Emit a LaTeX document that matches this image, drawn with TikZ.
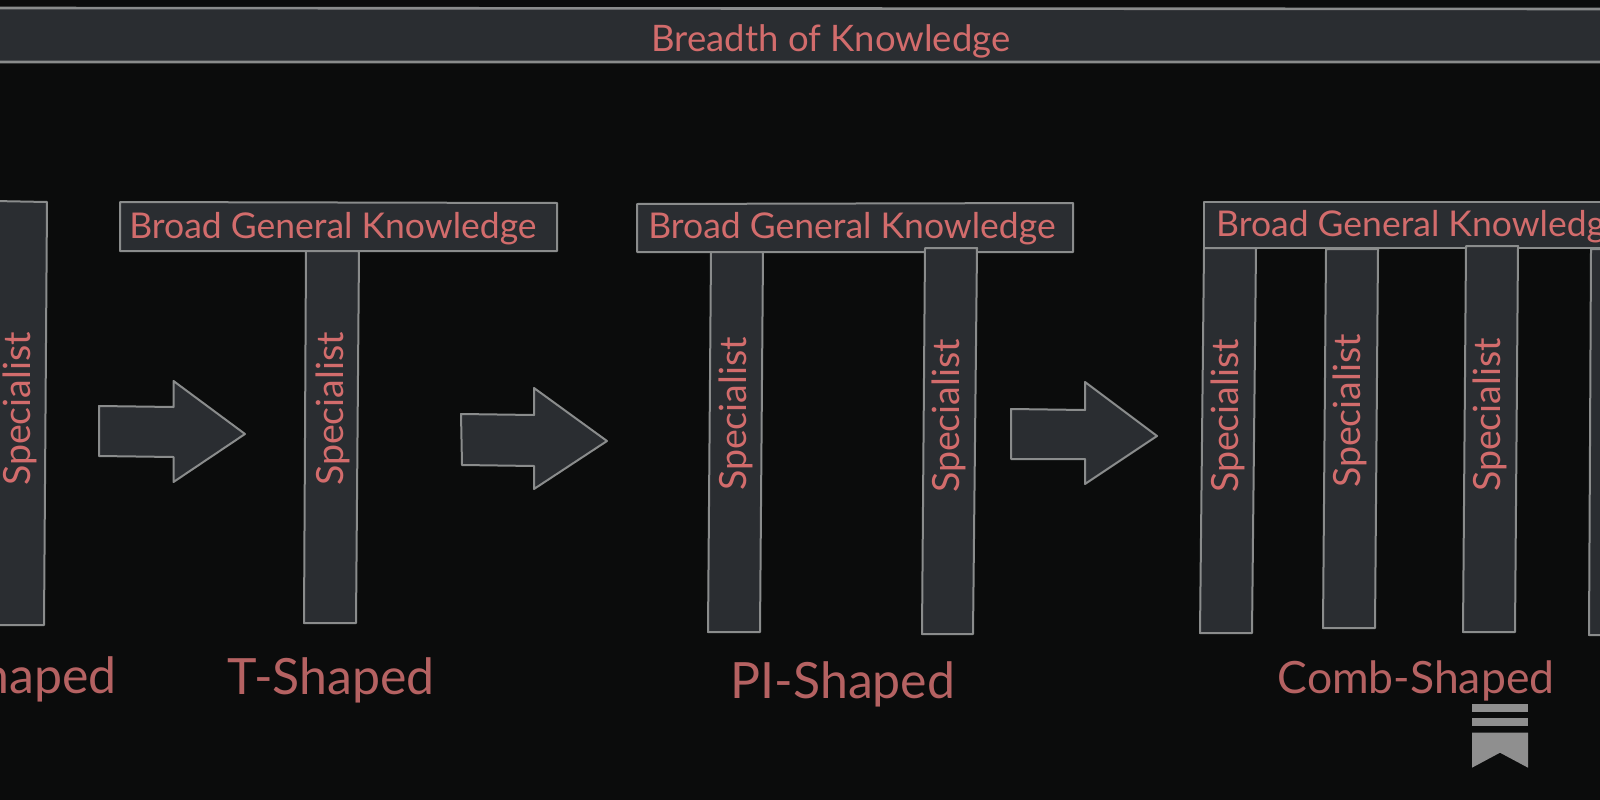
\documentclass[tikz,border=0pt]{standalone}
\usepackage{fontspec}
\setmainfont{Lato}
\definecolor{bgc}{HTML}{0B0C0C}
\definecolor{boxfill}{HTML}{2A2D31}
\definecolor{boxline}{HTML}{8A8C8C}
\definecolor{txt}{HTML}{D26C6C}
\definecolor{txtdim}{HTML}{B56262}
\definecolor{logo}{HTML}{8F8F8F}
\tikzset{
  shapebox/.style={draw=boxline,fill=boxfill,line width=2pt,line join=round},
  boxtext/.style={text=txt,font=\fontsize{35.5}{36}\selectfont,inner sep=0pt},
  spectext/.style={text=txt,font=\fontsize{37.5}{38}\selectfont,inner sep=0pt,rotate=90},
  shapelabel/.style={text=txtdim,font=\fontsize{50}{50}\selectfont,inner sep=0pt},
  logomark/.style={fill=logo,draw=none}
}
\begin{document}
\begin{tikzpicture}[x=1pt,y=-1pt]
\useasboundingbox (0,0) rectangle (1600,800);
\fill[bgc] (0,0) rectangle (1600,800);
% top bar
\draw[shapebox,line width=2.6pt] (-6,8) -- (1606,9) -- (1606,62) -- (-6,62) -- cycle;
\node[boxtext,font=\fontsize{36.5}{37}\selectfont] (breadth) at (831,41) {Breadth of Knowledge};
% I-shaped
\draw[shapebox] (-6,201) -- (47,202) -- (44,625) -- (-8,625) -- cycle;
\node[spectext] (spec0) at (20,409) {Specialist};
\node[shapelabel,anchor=base east] (lab0) at (117,693) {I-Shaped};
% arrows
\draw[shapebox] (99,406) -- (173.5,407) -- (173.5,381) -- (245,434) -- (173.5,482) -- (173.5,457) -- (99,456) -- cycle;
\draw[shapebox] (461,414) -- (534,415) -- (534,388) -- (607,441) -- (534,489) -- (534,466) -- (462,465) -- cycle;
\draw[shapebox] (1011,409) -- (1085,410) -- (1085,382) -- (1157,436) -- (1085,484) -- (1085,459) -- (1011,459) -- cycle;
% T-shaped
\draw[shapebox] (120,202) -- (557,203) -- (557,251) -- (120,251) -- cycle;
\draw[shapebox] (306,251) -- (359,251) -- (356,623) -- (304,623) -- cycle;
\node[boxtext] (broadT) at (333,229) {Broad General Knowledge};
\node[spectext] (specT) at (333,409) {Specialist};
\node[shapelabel] (labT) at (331,680) {T-Shaped};
% PI-shaped
\draw[shapebox] (637,204) -- (1073,203) -- (1073,252) -- (637,252) -- cycle;
\draw[shapebox] (711,252) -- (763,252) -- (760,632) -- (708,632) -- cycle;
\draw[shapebox] (925,248) -- (977,248) -- (973,634) -- (922,634) -- cycle;
\node[boxtext] (broadPI) at (852,229) {Broad General Knowledge};
\node[spectext] (specPIa) at (736,414) {Specialist};
\node[spectext] (specPIb) at (949,416) {Specialist};
\node[shapelabel] (labPI) at (843,684) {PI-Shaped};
% Comb-shaped
\draw[shapebox] (1204,202) -- (1610,202) -- (1610,248) -- (1204,248) -- cycle;
\draw[shapebox] (1204,248) -- (1256,248) -- (1252,633) -- (1200,633) -- cycle;
\draw[shapebox] (1326,249) -- (1378,249) -- (1375,628) -- (1323,628) -- cycle;
\draw[shapebox] (1466,246) -- (1518,246) -- (1515,632) -- (1463,632) -- cycle;
\draw[shapebox] (1591,249) -- (1640,249) -- (1640,635) -- (1589,635) -- cycle;
\node[boxtext,anchor=west] (broadC) at (1216,227) {Broad General Knowledge};
\node[spectext] (specCa) at (1228,416) {Specialist};
\node[spectext] (specCb) at (1350,411) {Specialist};
\node[spectext] (specCc) at (1490,415) {Specialist};
\node[spectext] (specCd) at (1618,414) {Specialist};
\node[shapelabel,font=\fontsize{44.5}{45}\selectfont] (labC) at (1416,681) {Comb-Shaped};
% logo
\fill[logomark] (1472,704) rectangle (1528,711.7);
\fill[logomark] (1472,718.3) rectangle (1528,726);
\fill[logomark] (1472,732.7) -- (1528,732.7) -- (1528,767.7) -- (1500,752.7) -- (1472,767.7) -- cycle;
\end{tikzpicture}
\end{document}
